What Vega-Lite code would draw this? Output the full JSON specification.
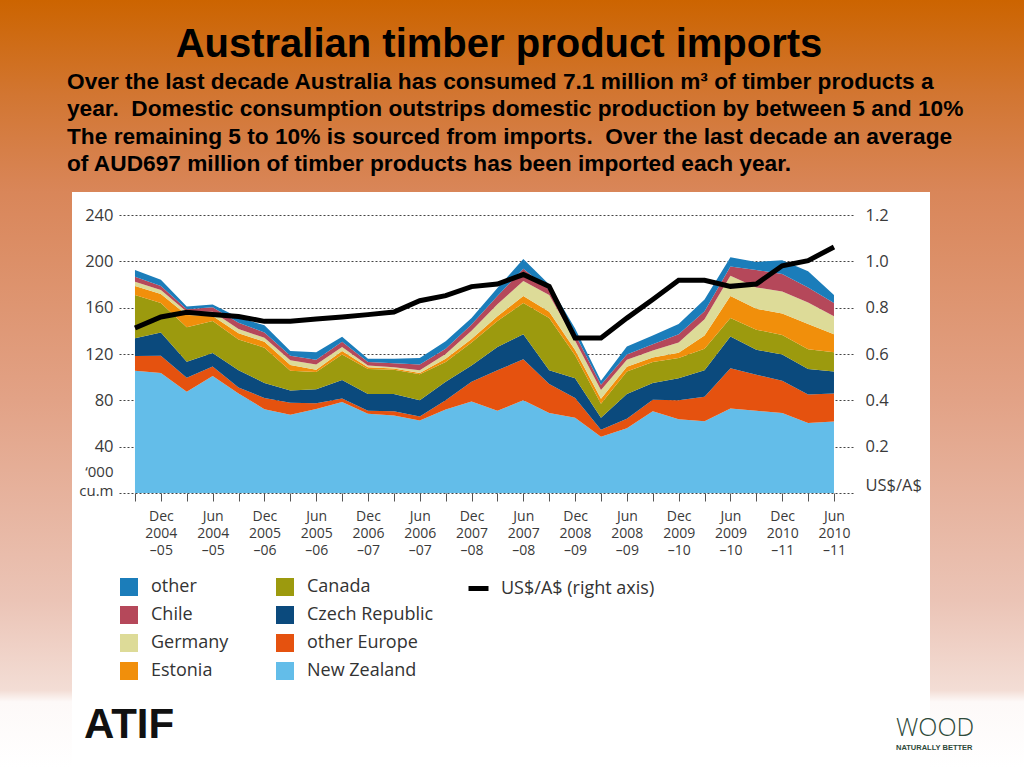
{
  "$schema": "https://vega.github.io/schema/vega-lite/v6.json",
  "background": "#ffffff",
  "padding": 0,
  "spacing": 0,
  "bounds": "flush",
  "config": {
    "view": {"stroke": null},
    "font": "Open Sans",
    "concat": {"spacing": 0}
  },
  "datasets": {
    "trade": [
      {"q": "Sep 2004-05", "New Zealand": 105.6, "other Europe": 12.7, "Czech Republic": 15.2, "Canada": 37.4, "Estonia": 7.8, "Germany": 3.7, "Chile": 4.3, "other": 5.8, "usd": 0.712},
      {"q": "Dec 2004-05", "New Zealand": 103.5, "other Europe": 15.0, "Czech Republic": 20.0, "Canada": 25.5, "Estonia": 7.8, "Germany": 3.5, "Chile": 3.4, "other": 5.3, "usd": 0.76},
      {"q": "Mar 2004-05", "New Zealand": 87.5, "other Europe": 12.1, "Czech Republic": 13.8, "Canada": 29.6, "Estonia": 10.7, "Germany": 2.8, "Chile": 2.1, "other": 2.4, "usd": 0.78},
      {"q": "Jun 2004-05", "New Zealand": 101.0, "other Europe": 8.2, "Czech Republic": 11.6, "Canada": 27.7, "Estonia": 4.3, "Germany": 3.7, "Chile": 3.8, "other": 2.5, "usd": 0.771},
      {"q": "Sep 2005-06", "New Zealand": 86.0, "other Europe": 5.0, "Czech Republic": 15.0, "Canada": 26.5, "Estonia": 5.5, "Germany": 3.5, "Chile": 5.5, "other": 4.5, "usd": 0.762},
      {"q": "Dec 2005-06", "New Zealand": 72.3, "other Europe": 9.7, "Czech Republic": 13.0, "Canada": 30.5, "Estonia": 5.0, "Germany": 3.5, "Chile": 4.5, "other": 6.3, "usd": 0.741},
      {"q": "Mar 2005-06", "New Zealand": 67.6, "other Europe": 10.4, "Czech Republic": 10.5, "Canada": 17.0, "Estonia": 5.0, "Germany": 4.0, "Chile": 4.0, "other": 4.0, "usd": 0.741},
      {"q": "Jun 2005-06", "New Zealand": 72.5, "other Europe": 5.0, "Czech Republic": 12.0, "Canada": 15.0, "Estonia": 2.0, "Germany": 4.5, "Chile": 4.0, "other": 6.5, "usd": 0.751},
      {"q": "Sep 2006-07", "New Zealand": 78.5, "other Europe": 3.0, "Czech Republic": 16.0, "Canada": 22.0, "Estonia": 3.0, "Germany": 3.5, "Chile": 4.5, "other": 4.3, "usd": 0.76},
      {"q": "Dec 2006-07", "New Zealand": 68.5, "other Europe": 2.5, "Czech Republic": 14.5, "Canada": 21.5, "Estonia": 1.5, "Germany": 1.5, "Chile": 3.0, "other": 3.0, "usd": 0.77},
      {"q": "Mar 2006-07", "New Zealand": 67.0, "other Europe": 3.5, "Czech Republic": 15.0, "Canada": 21.0, "Estonia": 1.0, "Germany": 1.0, "Chile": 3.5, "other": 4.0, "usd": 0.781},
      {"q": "Jun 2006-07", "New Zealand": 62.5, "other Europe": 3.5, "Czech Republic": 14.0, "Canada": 22.5, "Estonia": 1.0, "Germany": 2.5, "Chile": 5.0, "other": 5.5, "usd": 0.83},
      {"q": "Sep 2007-08", "New Zealand": 72.0, "other Europe": 8.0, "Czech Republic": 16.0, "Canada": 17.0, "Estonia": 3.0, "Germany": 4.0, "Chile": 4.5, "other": 6.5, "usd": 0.852},
      {"q": "Dec 2007-08", "New Zealand": 79.0, "other Europe": 17.0, "Czech Republic": 14.0, "Canada": 20.0, "Estonia": 3.0, "Germany": 7.0, "Chile": 5.5, "other": 5.5, "usd": 0.891},
      {"q": "Mar 2007-08", "New Zealand": 71.0, "other Europe": 35.0, "Czech Republic": 20.0, "Canada": 22.5, "Estonia": 4.0, "Germany": 10.5, "Chile": 7.0, "other": 7.0, "usd": 0.902},
      {"q": "Jun 2007-08", "New Zealand": 80.0, "other Europe": 35.5, "Czech Republic": 21.5, "Canada": 27.0, "Estonia": 6.0, "Germany": 13.0, "Chile": 10.5, "other": 8.5, "usd": 0.943},
      {"q": "Sep 2008-09", "New Zealand": 69.0, "other Europe": 25.0, "Czech Republic": 12.0, "Canada": 45.0, "Estonia": 5.5, "Germany": 14.5, "Chile": 4.5, "other": 4.5, "usd": 0.892},
      {"q": "Dec 2008-09", "New Zealand": 65.0, "other Europe": 17.0, "Czech Republic": 17.0, "Canada": 20.0, "Estonia": 4.5, "Germany": 8.0, "Chile": 5.5, "other": 5.0, "usd": 0.669},
      {"q": "Mar 2008-09", "New Zealand": 48.5, "other Europe": 6.0, "Czech Republic": 10.5, "Canada": 12.0, "Estonia": 4.4, "Germany": 7.6, "Chile": 4.5, "other": 3.5, "usd": 0.669},
      {"q": "Jun 2008-09", "New Zealand": 56.0, "other Europe": 8.0, "Czech Republic": 21.5, "Canada": 19.5, "Estonia": 4.0, "Germany": 6.0, "Chile": 4.5, "other": 7.0, "usd": 0.755},
      {"q": "Sep 2009-10", "New Zealand": 70.5, "other Europe": 10.0, "Czech Republic": 14.5, "Canada": 18.0, "Estonia": 4.0, "Germany": 6.0, "Chile": 5.5, "other": 7.5, "usd": 0.835},
      {"q": "Dec 2009-10", "New Zealand": 63.6, "other Europe": 16.4, "Czech Republic": 19.0, "Canada": 17.5, "Estonia": 4.5, "Germany": 9.0, "Chile": 7.0, "other": 9.0, "usd": 0.918},
      {"q": "Mar 2009-10", "New Zealand": 62.0, "other Europe": 21.0, "Czech Republic": 23.0, "Canada": 18.5, "Estonia": 11.5, "Germany": 14.0, "Chile": 7.0, "other": 10.0, "usd": 0.918},
      {"q": "Jun 2009-10", "New Zealand": 73.0, "other Europe": 34.8, "Czech Republic": 27.4, "Canada": 15.8, "Estonia": 19.0, "Germany": 17.5, "Chile": 8.0, "other": 8.0, "usd": 0.892},
      {"q": "Sep 2010-11", "New Zealand": 71.0, "other Europe": 31.0, "Czech Republic": 21.6, "Canada": 17.4, "Estonia": 18.0, "Germany": 18.5, "Chile": 15.1, "other": 6.9, "usd": 0.902},
      {"q": "Dec 2010-11", "New Zealand": 69.0, "other Europe": 28.0, "Czech Republic": 22.5, "Canada": 17.0, "Estonia": 18.5, "Germany": 19.0, "Chile": 15.0, "other": 12.0, "usd": 0.981},
      {"q": "Mar 2010-11", "New Zealand": 60.5, "other Europe": 24.5, "Czech Republic": 22.0, "Canada": 17.0, "Estonia": 22.0, "Germany": 18.5, "Chile": 13.0, "other": 14.0, "usd": 1.003},
      {"q": "Jun 2010-11", "New Zealand": 61.8, "other Europe": 24.1, "Czech Republic": 19.1, "Canada": 16.5, "Estonia": 15.5, "Germany": 15.5, "Chile": 11.5, "other": 7.0, "usd": 1.062}
    ],
    "stackorder": [
      {"country": "New Zealand", "rank": 1},
      {"country": "other Europe", "rank": 2},
      {"country": "Czech Republic", "rank": 3},
      {"country": "Canada", "rank": 4},
      {"country": "Estonia", "rank": 5},
      {"country": "Germany", "rank": 6},
      {"country": "Chile", "rank": 7},
      {"country": "other", "rank": 8}
    ]
  },
  "vconcat": [
    {
      "width": 1024,
      "height": 192,
      "data": {"values": []},
      "mark": "point",
      "view": {
        "stroke": null,
        "fill": {"gradient": "linear", "x1": 0, "y1": 0, "x2": 0, "y2": 1,
          "stops": [{"offset": 0, "color": "#CC6400"}, {"offset": 0.5, "color": "#D27632"}, {"offset": 1, "color": "#D98659"}]}
      },
      "title": {
        "text": "Australian timber product imports",
        "anchor": "middle",
        "frame": "group",
        "orient": "top",
        "offset": -65,
        "dx": -13,
        "font": "Liberation Sans",
        "fontSize": 40,
        "fontWeight": "bold",
        "color": "#000000"
      }
    },
    {
      "spacing": 0,
      "bounds": "flush",
      "hconcat": [
        {
          "width": 72,
          "height": 576,
          "data": {"values": []},
          "mark": "point",
          "view": {
            "stroke": null,
            "fill": {"gradient": "linear", "x1": 0, "y1": 0, "x2": 0, "y2": 1,
              "stops": [{"offset": 0, "color": "#D98659"}, {"offset": 0.36, "color": "#E2A286"}, {"offset": 0.71, "color": "#EBC4B6"}, {"offset": 0.865, "color": "#F3DDD5"}, {"offset": 0.885, "color": "#FDF9F8"}, {"offset": 1, "color": "#FFFFFF"}]}
          },
          "title": {
            "text": [
              "Over the last decade Australia has consumed 7.1 million m\u00b3 of timber products a",
              "year.\u00a0 Domestic consumption outstrips domestic production by between 5 and 10%",
              "The remaining 5 to 10% is sourced from imports.\u00a0 Over the last decade an average",
              "of AUD697 million of timber products has been imported each year."
            ],
            "anchor": "start",
            "frame": "group",
            "orient": "top",
            "offset": 16,
            "dx": 67,
            "font": "Liberation Sans",
            "fontSize": 22.7,
            "fontWeight": "bold",
            "color": "#000000",
            "lineHeight": 27.5
          }
        },
        {
          "width": 47,
          "height": 301,
          "data": {"values": []},
          "mark": "point",
          "title": {
            "text": "ATIF",
            "anchor": "start",
            "frame": "group",
            "orient": "bottom",
            "offset": 212,
            "dx": 12,
            "font": "Liberation Sans",
            "fontSize": 42,
            "fontWeight": "bold",
            "color": "#111111"
          }
        },
        {
          "width": 736,
          "height": 301,
          "data": {"name": "trade"},
          "resolve": {"scale": {"y": "independent"}},
          "layer": [
            {
              "transform": [
                {"fold": ["New Zealand", "other Europe", "Czech Republic", "Canada", "Estonia", "Germany", "Chile", "other"], "as": ["country", "volume"]},
                {"lookup": "country", "from": {"data": {"name": "stackorder"}, "key": "country", "fields": ["rank"]}}
              ],
              "mark": {"type": "area", "opacity": 1},
              "encoding": {
                "x": {
                  "field": "q", "type": "ordinal", "sort": null,
                  "scale": {"type": "point", "padding": 0.7146, "align": 0.432},
                  "axis": {
                    "title": null, "domain": false, "grid": false,
                    "ticks": true, "tickSize": 8, "tickColor": "#555555", "tickWidth": 1,
                    "labelAngle": 0, "labelOverlap": false, "labelPadding": 8,
                    "labelBaseline": "top", "labelAlign": "center",
                    "labelFont": "Open Sans", "labelFontSize": 14, "labelLineHeight": 17, "labelColor": "#3a3a3a",
                    "labelExpr": "indexof(['Dec','Jun'], slice(datum.label,0,3)) >= 0 ? [slice(datum.label,0,3), slice(datum.label,4,8), '\u2013' + slice(datum.label,9,11)] : ''"
                  }
                },
                "y": {
                  "field": "volume", "type": "quantitative", "stack": "zero",
                  "scale": {"domain": [0, 259.86], "nice": false},
                  "axis": {
                    "orient": "left", "title": null,
                    "values": [0, 40, 80, 120, 160, 200, 240],
                    "grid": true, "gridDash": [2, 2], "gridColor": "#444444", "gridWidth": 1,
                    "domain": false, "ticks": false, "labelPadding": 6,
                    "labelFont": "Open Sans", "labelColor": "#3a3a3a", "labelLineHeight": 19,
                    "labelFontSize": {"condition": {"test": "datum.value == 0", "value": 15}, "value": 16.5},
                    "labelExpr": "datum.value == 0 ? ['\u2018000', 'cu.m'] : datum.label",
                    "labelBaseline": {"condition": {"test": "datum.value == 0", "value": "bottom"}, "value": "middle"},
                    "labelOffset": {"condition": {"test": "datum.value == 0", "value": -14}, "value": 0}
                  }
                },
                "color": {
                  "field": "country", "type": "nominal",
                  "scale": {
                    "domain": ["other", "Chile", "Germany", "Estonia", "Canada", "Czech Republic", "other Europe", "New Zealand"],
                    "range": ["#1B7DBA", "#B5485A", "#DDDB98", "#F18F0B", "#9C9A0E", "#0B4A7D", "#E5520F", "#63BDE9"]
                  },
                  "legend": {
                    "orient": "none", "legendX": 120, "legendY": 578, "columns": 2, "title": null,
                    "symbolType": "square", "symbolSize": 324, "symbolStrokeWidth": 0, "symbolOpacity": 1,
                    "labelFont": "Open Sans", "labelFontSize": 18, "labelColor": "#333333",
                    "labelOffset": 13, "rowPadding": 10, "columnPadding": 47, "padding": 0
                  }
                },
                "order": {"field": "rank", "type": "quantitative"}
              }
            },
            {
              "mark": {"type": "line", "strokeWidth": 5},
              "encoding": {
                "x": {"field": "q", "type": "ordinal", "sort": null},
                "y": {
                  "field": "usd", "type": "quantitative",
                  "scale": {"domain": [0, 1.2993], "nice": false},
                  "axis": {
                    "orient": "right", "title": null,
                    "values": [0, 0.2, 0.4, 0.6, 0.8, 1.0, 1.2],
                    "format": ".1f", "grid": false, "domain": false, "ticks": false, "labelPadding": 10,
                    "labelFont": "Open Sans", "labelFontSize": 16.5, "labelColor": "#3a3a3a",
                    "labelExpr": "datum.value == 0 ? 'US$/A$' : datum.label",
                    "labelBaseline": {"condition": {"test": "datum.value == 0", "value": "bottom"}, "value": "middle"}
                  }
                },
                "stroke": {
                  "datum": "US$/A$ (right axis)",
                  "scale": {"range": ["#000000"]},
                  "legend": {
                    "orient": "none", "legendX": 466, "legendY": 576, "title": null,
                    "symbolType": "stroke", "symbolStrokeWidth": 5, "symbolSize": 400,
                    "labelFont": "Open Sans", "labelFontSize": 18, "labelColor": "#333333",
                    "labelOffset": 10, "padding": 0
                  }
                }
              }
            }
          ]
        },
        {"width": 75, "height": 301, "data": {"values": []}, "mark": "point"},
        {
          "width": 94,
          "height": 576,
          "data": {"values": []},
          "mark": "point",
          "view": {
            "stroke": null,
            "fill": {"gradient": "linear", "x1": 0, "y1": 0, "x2": 0, "y2": 1,
              "stops": [{"offset": 0, "color": "#D98659"}, {"offset": 0.36, "color": "#E2A286"}, {"offset": 0.71, "color": "#EBC4B6"}, {"offset": 0.865, "color": "#F3DDD5"}, {"offset": 0.885, "color": "#FDF9F8"}, {"offset": 1, "color": "#FFFFFF"}]}
          },
          "title": {
            "text": "WOOD",
            "subtitle": "NATURALLY BETTER",
            "anchor": "start",
            "frame": "group",
            "orient": "top",
            "offset": -559,
            "dx": -34,
            "font": "Open Sans",
            "fontSize": 25,
            "fontWeight": 300,
            "color": "#2E4A3A",
            "subtitleFont": "Liberation Sans",
            "subtitleFontSize": 7.5,
            "subtitleFontWeight": "bold",
            "subtitleColor": "#2E4A3A",
            "subtitlePadding": 3
          }
        }
      ]
    }
  ]
}
